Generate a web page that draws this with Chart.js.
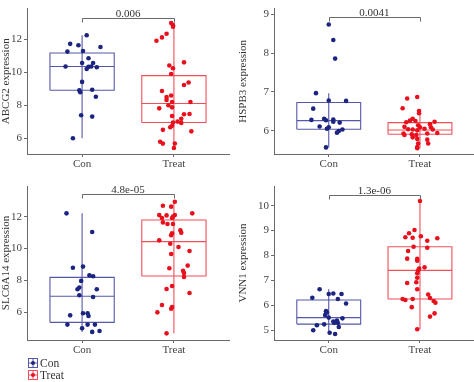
<!DOCTYPE html>
<html>
<head>
<meta charset="utf-8">
<script src="https://cdn.jsdelivr.net/npm/chart.js@4"></script>
<style>
  body { margin: 0; width: 474px; height: 382px; overflow: hidden; background: #fff; position: relative; }
  canvas { position: absolute; }
  .legend { position: absolute; left: 28px; font: 11.5px "Liberation Serif", serif; color: #333; line-height: 12px; }
  .legend svg { vertical-align: -1px; margin-right: 2px; }
</style>
</head>
<body>
<canvas id="p1" width="237" height="172" style="left:0;top:0"></canvas>
<canvas id="p2" width="240" height="172" style="left:237px;top:0"></canvas>
<canvas id="p3" width="237" height="182" style="left:0;top:176px"></canvas>
<canvas id="p4" width="240" height="182" style="left:237px;top:176px"></canvas>

<div class="legend" style="top:357px">
  <svg width="10" height="10"><rect x="0.5" y="0.5" width="9" height="9" fill="none" stroke="#5558a8"/><line x1="0" y1="5" x2="10" y2="5" stroke="#5558a8"/><line x1="5" y1="0" x2="5" y2="10" stroke="#5558a8"/><circle cx="5" cy="5" r="2" fill="#1c2481"/></svg>Con
</div>
<div class="legend" style="top:369px">
  <svg width="10" height="10"><rect x="0.5" y="0.5" width="9" height="9" fill="none" stroke="#f0505a"/><line x1="0" y1="5" x2="10" y2="5" stroke="#f0505a"/><line x1="5" y1="0" x2="5" y2="10" stroke="#f0505a"/><circle cx="5" cy="5" r="2" fill="#e8101c"/></svg>Treat
</div>

<script>
// groups and genes
const groups = ['Con', 'Treat'];
const genes = ['ABCG2', 'HSPB3', 'SLC6A14', 'VNN1'];
const pValues = ['0.006', '0.0041', '4.8e-05', '1.3e-06'];

// ABCG2
const abcg2Con = [12.23, 11.71, 11.62, 11.52, 11.24, 11.28, 10.84, 10.55, 10.55, 10.34, 10.34, 10.32, 10.29, 10.19, 9.41, 8.93, 8.90, 8.78, 8.51, 7.39, 7.31, 6.0];
const abcg2ConJitter = [0.05, -0.13, -0.04, 0.20, -0.16, 0.01, 0.07, 0, 0.12, -0.18, 0.10, 0.07, 0.16, 0.05, 0, 0.11, -0.03, -0.02, 0.15, -0.01, 0.11, -0.10];
const abcg2Treat = [12.97, 12.84, 12.74, 12.32, 12.1, 11.9, 10.59, 10.4, 10.23, 9.89, 9.37, 9.22, 8.86, 8.59, 8.5, 8.32, 8.19, 8.19, 8.0, 7.81, 7.87, 7.45, 7.47, 7.35, 7.18, 7.01, 6.95, 6.93, 6.76, 6.67, 6.51, 6.42, 5.79, 5.68, 5.68, 5.41];
const abcg2TreatJitter = [-0.03, -0.01, -0.01, -0.08, -0.13, -0.19, 0.11, -0.05, -0.01, -0.03, 0.16, 0.11, -0.13, -0.03, -0.08, -0.08, -0.02, 0.18, -0.06, -0.16, -0.02, 0.11, 0.17, -0.02, 0.08, 0.04, -0.01, 0.08, -0.02, -0.04, -0.12, 0.19, -0.15, -0.12, 0.01, 0];
// box stats: [lower whisker, q1, median, q3, upper whisker]
const abcg2ConBox = [6.0, 8.9, 10.34, 11.16, 12.23];
const abcg2TreatBox = [5.41, 6.95, 8.1, 9.79, 12.97];
const abcg2Ticks = [6, 8, 10, 12];

// HSPB3
const hspb3Con = [8.74, 8.34, 7.86, 6.97, 6.78, 6.77, 6.57, 6.31, 6.28, 6.27, 6.29, 6.23, 6.21, 6.11, 6.09, 6.05, 6.03, 5.99, 5.95, 5.57];
const hspb3ConJitter = [0, 0.05, 0.07, -0.14, 0, 0.19, -0.17, -0.05, -0.19, -0.03, 0.05, 0.05, 0.12, -0.10, 0, -0.02, 0.15, 0.11, 0.09, -0.03];
const hspb3Treat = [6.87, 6.83, 6.58, 6.51, 6.45, 6.31, 6.26, 6.22, 6.25, 6.23, 6.17, 6.14, 6.10, 6.09, 6.09, 6.04, 6.03, 6.05, 6.03, 6.01, 5.93, 5.89, 5.89, 5.91, 5.93, 5.94, 5.83, 5.79, 5.77, 5.67, 5.67, 5.58, 5.55];
const hspb3TreatJitter = [-0.03, -0.14, -0.19, -0.01, -0.01, -0.08, -0.11, -0.15, -0.05, 0.16, 0.11, -0.02, -0.17, 0, 0.12, -0.13, -0.08, 0.05, 0.14, -0.03, -0.18, -0.17, -0.04, -0.09, 0.08, 0.19, -0.08, -0.03, 0.08, -0.02, 0.09, -0.03, -0.03];
const hspb3ConBox = [5.57, 6.04, 6.26, 6.73, 6.97];
const hspb3TreatBox = [5.55, 5.91, 6.02, 6.21, 6.56];
const hspb3Ticks = [6, 7, 8, 9];

// SLC6A14
const slc6a14Con = [12.21, 11.04, 8.86, 8.79, 8.31, 8.25, 7.96, 7.54, 7.43, 7.43, 7.06, 6.95, 5.79, 5.92, 5.92, 5.75, 5.21, 5.21, 5.21, 4.98, 4.75, 4.81];
const slc6a14ConJitter = [-0.17, 0.11, 0.01, -0.10, 0.08, 0.12, -0.01, -0.03, -0.05, 0.16, -0.03, 0.12, -0.13, 0.01, 0.06, 0.07, -0.16, 0.06, 0.14, 0, 0.11, 0.19];
const slc6a14Treat = [12.94, 12.69, 12.63, 12.21, 12.1, 12.08, 12.1, 11.92, 11.92, 12.0, 11.64, 11.54, 11.54, 11.14, 10.99, 10.95, 10.83, 10.51, 10.30, 10.09, 9.84, 9.65, 8.92, 8.75, 8.60, 8.46, 8.21, 7.45, 7.64, 7.20, 6.44, 6.32, 6.21, 5.98, 4.66];
const slc6a14TreatJitter = [0.01, -0.12, -0.03, 0.20, -0.16, -0.08, 0.01, -0.13, -0.02, -0.01, -0.12, -0.07, -0.01, 0.07, 0.08, -0.02, -0.03, -0.16, -0.04, 0.05, 0.17, -0.03, 0.15, -0.05, 0.10, 0.11, 0.11, -0.08, -0.02, 0.17, -0.13, -0.02, -0.03, -0.18, -0.08];
const slc6a14ConBox = [4.75, 5.35, 6.99, 8.18, 12.21];
const slc6a14TreatBox = [4.66, 8.27, 10.43, 11.79, 12.94];
const slc6a14Ticks = [6, 8, 10, 12];

// VNN1
const vnn1Con = [6.64, 6.47, 6.45, 6.45, 6.30, 6.25, 6.07, 5.76, 5.71, 5.60, 5.47, 5.50, 5.38, 5.34, 5.29, 5.23, 5.19, 5.12, 4.99, 4.89, 4.84, 5.29];
const vnn1ConJitter = [-0.10, 0.05, 0, 0.14, -0.18, 0.10, 0.19, -0.03, -0.02, -0.04, 0.15, 0, 0.09, 0.05, 0.10, -0.05, -0.13, 0.11, -0.17, 0.01, 0.07, 0.06];
const vnn1Treat = [10.19, 9.02, 8.89, 8.73, 8.71, 8.77, 8.59, 8.69, 8.35, 8.31, 8.18, 7.86, 7.79, 7.87, 7.52, 7.47, 7.39, 7.28, 7.10, 6.89, 6.92, 6.64, 6.43, 6.29, 6.25, 6.25, 6.21, 6.17, 6.10, 5.92, 5.67, 5.54, 5.03];
const vnn1TreatJitter = [0, -0.06, -0.12, -0.16, -0.08, 0.01, 0.08, 0.19, -0.07, 0.08, -0.13, -0.03, -0.03, -0.14, 0.05, -0.01, -0.02, -0.03, -0.03, -0.14, -0.04, -0.03, 0.09, 0.11, -0.19, -0.08, -0.16, 0.15, 0.17, -0.09, 0.16, 0.11, -0.03];
const vnn1ConBox = [4.84, 5.24, 5.5, 6.21, 6.64];
const vnn1TreatBox = [5.03, 6.25, 7.40, 8.35, 10.19];
const vnn1Ticks = [5, 6, 7, 8, 9, 10];

const conPoint = '#1c2481', conLine = '#5558a8';
const treatPoint = '#e8101c', treatLine = '#f0505a';
const axisColor = '#6a6a6a';
const font = { family: '"Liberation Serif", serif', size: 11 };
const halfBox = 0.35;

function boxDatasets(c, box, color) {
  const [lo, q1, med, q3, hi] = box;
  const line = { type: 'scatter', showLine: true, pointRadius: 0, borderColor: color, borderWidth: 1.1, order: 2 };
  return [
    Object.assign({}, line, { data: [{ x: c, y: lo }, { x: c, y: hi }] }),
    Object.assign({}, line, { data: [
      { x: c - halfBox, y: q1 }, { x: c + halfBox, y: q1 }, { x: c + halfBox, y: q3 },
      { x: c - halfBox, y: q3 }, { x: c - halfBox, y: q1 }] }),
    Object.assign({}, line, { data: [{ x: c - halfBox, y: med }, { x: c + halfBox, y: med }] })
  ];
}

function pointDataset(c, values, jitter, color) {
  return {
    type: 'scatter', order: 1,
    data: values.map((v, i) => ({ x: c + jitter[i], y: v })),
    pointRadius: 2.3, pointHoverRadius: 2.3, backgroundColor: color, borderWidth: 0
  };
}

const bracketPlugin = {
  id: 'bracket',
  afterDatasetsDraw(chart, args, opts) {
    const { ctx, scales: { x, y } } = chart;
    const x1 = x.getPixelForValue(1), x2 = x.getPixelForValue(2);
    const yb = Math.round(y.getPixelForValue(opts.level)) + 0.5;
    ctx.save();
    ctx.strokeStyle = axisColor;
    ctx.lineWidth = 1;
    ctx.beginPath();
    ctx.moveTo(Math.round(x1) + 0.5, yb + 4);
    ctx.lineTo(Math.round(x1) + 0.5, yb);
    ctx.lineTo(Math.round(x2) + 0.5, yb);
    ctx.lineTo(Math.round(x2) + 0.5, yb + 4);
    ctx.stroke();
    ctx.fillStyle = '#333';
    ctx.font = '11px "Liberation Serif", serif';
    ctx.textAlign = 'center';
    ctx.textBaseline = 'bottom';
    ctx.fillText(opts.label, (x1 + x2) / 2, yb + 1);
    ctx.restore();
  }
};

function makePanel(id, p) {
  new Chart(document.getElementById(id), {
    data: {
      datasets: [
        pointDataset(1, p.con, p.conJitter, conPoint),
        pointDataset(2, p.treat, p.treatJitter, treatPoint),
        ...boxDatasets(1, p.conBox, conLine),
        ...boxDatasets(2, p.treatBox, treatLine)
      ]
    },
    options: {
      responsive: false,
      animation: false,
      devicePixelRatio: 1,
      layout: { padding: { top: p.padTop, right: p.padRight, left: 0, bottom: 0 } },
      plugins: { legend: { display: false }, tooltip: { enabled: false }, bracket: { level: p.bracket, label: p.pValue } },
      scales: {
        x: {
          type: 'linear', min: 0.4, max: 2.6,
          afterBuildTicks: s => { s.ticks = [{ value: 1 }, { value: 2 }]; },
          afterFit: s => { s.height = 18; },
          ticks: { font, color: '#444', padding: 1, callback: v => groups[v - 1] },
          grid: { drawOnChartArea: false, drawTicks: true, tickLength: 3, color: axisColor },
          border: { display: true, color: axisColor, width: 1 }
        },
        y: {
          type: 'linear', min: p.yMin, max: p.yMax,
          afterBuildTicks: s => { s.ticks = p.ticks.map(v => ({ value: v })); },
          afterFit: s => { s.width = p.axisWidth; },
          ticks: { font, color: '#444', padding: 2 },
          grid: { drawOnChartArea: false, drawTicks: true, tickLength: 3, color: axisColor },
          border: { display: true, color: axisColor, width: 1 },
          title: { display: true, text: p.gene + ' expression', font, color: '#333', padding: { top: 0, bottom: 0 } }
        }
      }
    },
    plugins: [bracketPlugin]
  });
}

makePanel('p1', { gene: genes[0], pValue: pValues[0], con: abcg2Con, conJitter: abcg2ConJitter, treat: abcg2Treat, treatJitter: abcg2TreatJitter,
  conBox: abcg2ConBox, treatBox: abcg2TreatBox, ticks: abcg2Ticks, yMin: 5.05, yMax: 13.84, bracket: 13.27, axisWidth: 27, padTop: 0, padRight: 8 });
makePanel('p2', { gene: genes[1], pValue: pValues[1], con: hspb3Con, conJitter: hspb3ConJitter, treat: hspb3Treat, treatJitter: hspb3TreatJitter,
  conBox: hspb3ConBox, treatBox: hspb3TreatBox, ticks: hspb3Ticks, yMin: 5.40, yMax: 9.15, bracket: 8.93, axisWidth: 37, padTop: 0, padRight: 0 });
makePanel('p3', { gene: genes[2], pValue: pValues[2], con: slc6a14Con, conJitter: slc6a14ConJitter, treat: slc6a14Treat, treatJitter: slc6a14TreatJitter,
  conBox: slc6a14ConBox, treatBox: slc6a14TreatBox, ticks: slc6a14Ticks, yMin: 4.24, yMax: 13.93, bracket: 13.41, axisWidth: 27, padTop: 10, padRight: 8 });
makePanel('p4', { gene: genes[3], pValue: pValues[3], con: vnn1Con, conJitter: vnn1ConJitter, treat: vnn1Treat, treatJitter: vnn1TreatJitter,
  conBox: vnn1ConBox, treatBox: vnn1TreatBox, ticks: vnn1Ticks, yMin: 4.6, yMax: 10.79, bracket: 10.44, axisWidth: 37, padTop: 10, padRight: 0 });
</script>
</body>
</html>
